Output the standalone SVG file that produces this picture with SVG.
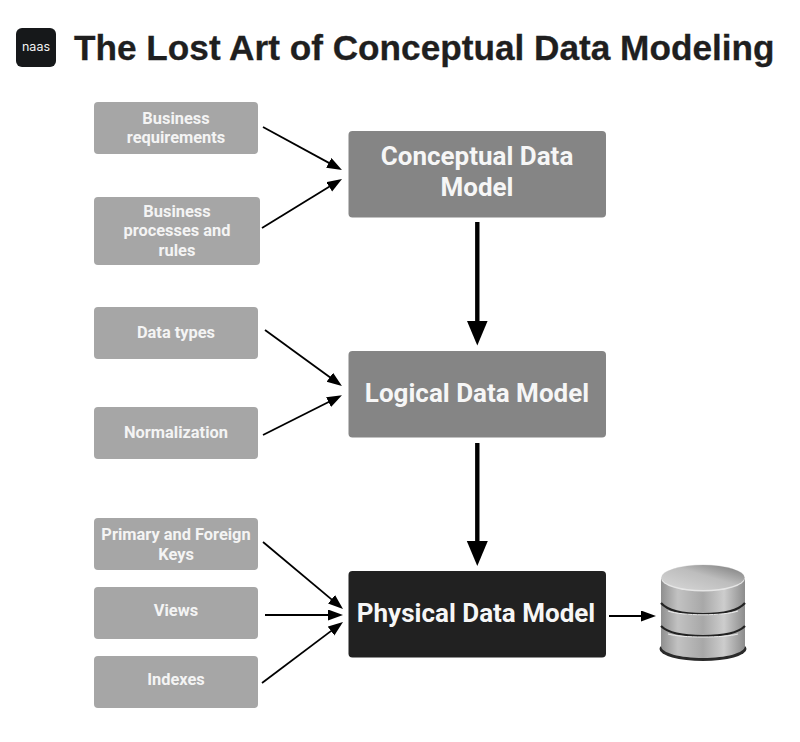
<svg xmlns="http://www.w3.org/2000/svg" width="800" height="742" viewBox="0 0 800 742">
<style>
.input{fill:#a6a6a6}
.main{fill:#858585}
.dark{fill:#212121}
.it{font:700 16.4px Roboto,sans-serif;fill:#f4f4f4;text-anchor:middle}
.mt{font:700 26px Roboto,sans-serif;fill:#f6f6f6;text-anchor:middle}
.thin{stroke:#000;stroke-width:1.8;fill:none;marker-end:url(#a)}
.thick{stroke:#000;stroke-width:4.4;fill:none;marker-end:url(#b)}
</style>
<defs>
<marker id="a" markerUnits="userSpaceOnUse" markerWidth="16" markerHeight="12" refX="9" refY="5.5" orient="auto"><path d="M0 0L15 5.5L0 11Z" fill="#000"/></marker>
<marker id="b" markerUnits="userSpaceOnUse" markerWidth="26" markerHeight="22" refX="5" refY="10.5" orient="auto"><path d="M0 0L25 10.5L0 21Z" fill="#000"/></marker>
<linearGradient id="side" x1="0" x2="1" y1="0" y2="0"><stop offset="0" stop-color="#8f8f8f"/><stop offset=".2" stop-color="#c2c2c2"/><stop offset=".5" stop-color="#a8a8a8"/><stop offset=".75" stop-color="#cdcdcd"/><stop offset="1" stop-color="#8c8c8c"/></linearGradient>
<linearGradient id="top" x1="0" x2="1" y1="1" y2="0"><stop offset="0" stop-color="#d8d8d8"/><stop offset=".55" stop-color="#bdbdbd"/><stop offset="1" stop-color="#777"/></linearGradient>
</defs>
<rect width="800" height="742" fill="#fff"/>
<g id="logo"><rect x="16" y="28" width="40" height="39" rx="6" fill="#16181a"/><text x="36" y="51" font-family="Inter,sans-serif" font-size="12.5" fill="#f2f2f2" text-anchor="middle">naas</text></g>
<text id="title" x="74" y="60" font-family="'Liberation Sans',Arial,sans-serif" font-weight="700" font-size="35.2" fill="#1f1f1f" stroke="#1f1f1f" stroke-width=".3">The Lost Art of Conceptual Data Modeling</text>
<g id="connectors">
<path class="thin" d="M263 127L336.700 167.100"/>
<path class="thin" d="M262 228L336.900 182.100"/>
<path class="thin" d="M265 330L337.100 382.500"/>
<path class="thin" d="M263 435L336.600 398"/>
<path class="thin" d="M263 542L338.400 605.100"/>
<path class="thin" d="M265 615L337 615"/>
<path class="thin" d="M262 683L338.200 625.600"/>
<path class="thin" d="M609 616L650 616"/>
<path class="thick" d="M477.300 222V325.500"/>
<path class="thick" d="M477.300 443V546"/>
</g>
<g id="n1"><rect class="input" x="94" y="102" width="164" height="52" rx="4"/><text class="it" x="176" y="124">Business</text><text class="it" x="176" y="143">requirements</text></g>
<g id="n2"><rect class="input" x="94" y="197" width="166" height="68" rx="4"/><text class="it" x="177" y="217">Business</text><text class="it" x="177" y="236">processes and</text><text class="it" x="177" y="256">rules</text></g>
<g id="n3"><rect class="input" x="94" y="307" width="164" height="52" rx="4"/><text class="it" x="176" y="338">Data types</text></g>
<g id="n4"><rect class="input" x="94" y="407" width="164" height="52" rx="4"/><text class="it" x="176" y="438">Normalization</text></g>
<g id="n5"><rect class="input" x="94" y="518" width="164" height="52" rx="4"/><text class="it" x="176" y="540">Primary and Foreign</text><text class="it" x="176" y="560">Keys</text></g>
<g id="n6"><rect class="input" x="94" y="587" width="164" height="52" rx="4"/><text class="it" x="176" y="616">Views</text></g>
<g id="n7"><rect class="input" x="94" y="656" width="164" height="52" rx="4"/><text class="it" x="176" y="685">Indexes</text></g>
<g id="conceptual"><rect class="main" x="348.500" y="131" width="257.500" height="86.500" rx="4"/><text class="mt" x="477" y="165">Conceptual Data</text><text class="mt" x="477" y="196">Model</text></g>
<g id="logical"><rect class="main" x="348.500" y="351" width="257.500" height="86.500" rx="4"/><text class="mt" x="477" y="402">Logical Data Model</text></g>
<g id="physical"><rect class="dark" x="348.500" y="571" width="257.500" height="86.500" rx="4"/><text class="mt" x="476" y="622">Physical Data Model</text></g>
<g id="database">
<ellipse cx="703" cy="649" rx="43.500" ry="12" fill="#2a2a2a"/>
<path d="M661 578V646C661 653 680 658 703 658S745 653 745 646V578Z" fill="url(#side)"/>
<path d="M661 603C668 611 685 614 703 614S738 611 745 603" fill="none" stroke="#222" stroke-width="2.200"/>
<path d="M661 626C668 633 685 636 703 636S738 633 745 626" fill="none" stroke="#222" stroke-width="2.200"/>
<path d="M668 611C682 616 724 616 738 611M668 634C682 638 724 638 738 634" fill="none" stroke="#eee" stroke-width="1"/>
<ellipse cx="703" cy="578" rx="42" ry="13.500" fill="#e6e6e6"/>
<ellipse cx="703" cy="577.500" rx="41.500" ry="12.500" fill="url(#top)"/>
</g>
</svg>
